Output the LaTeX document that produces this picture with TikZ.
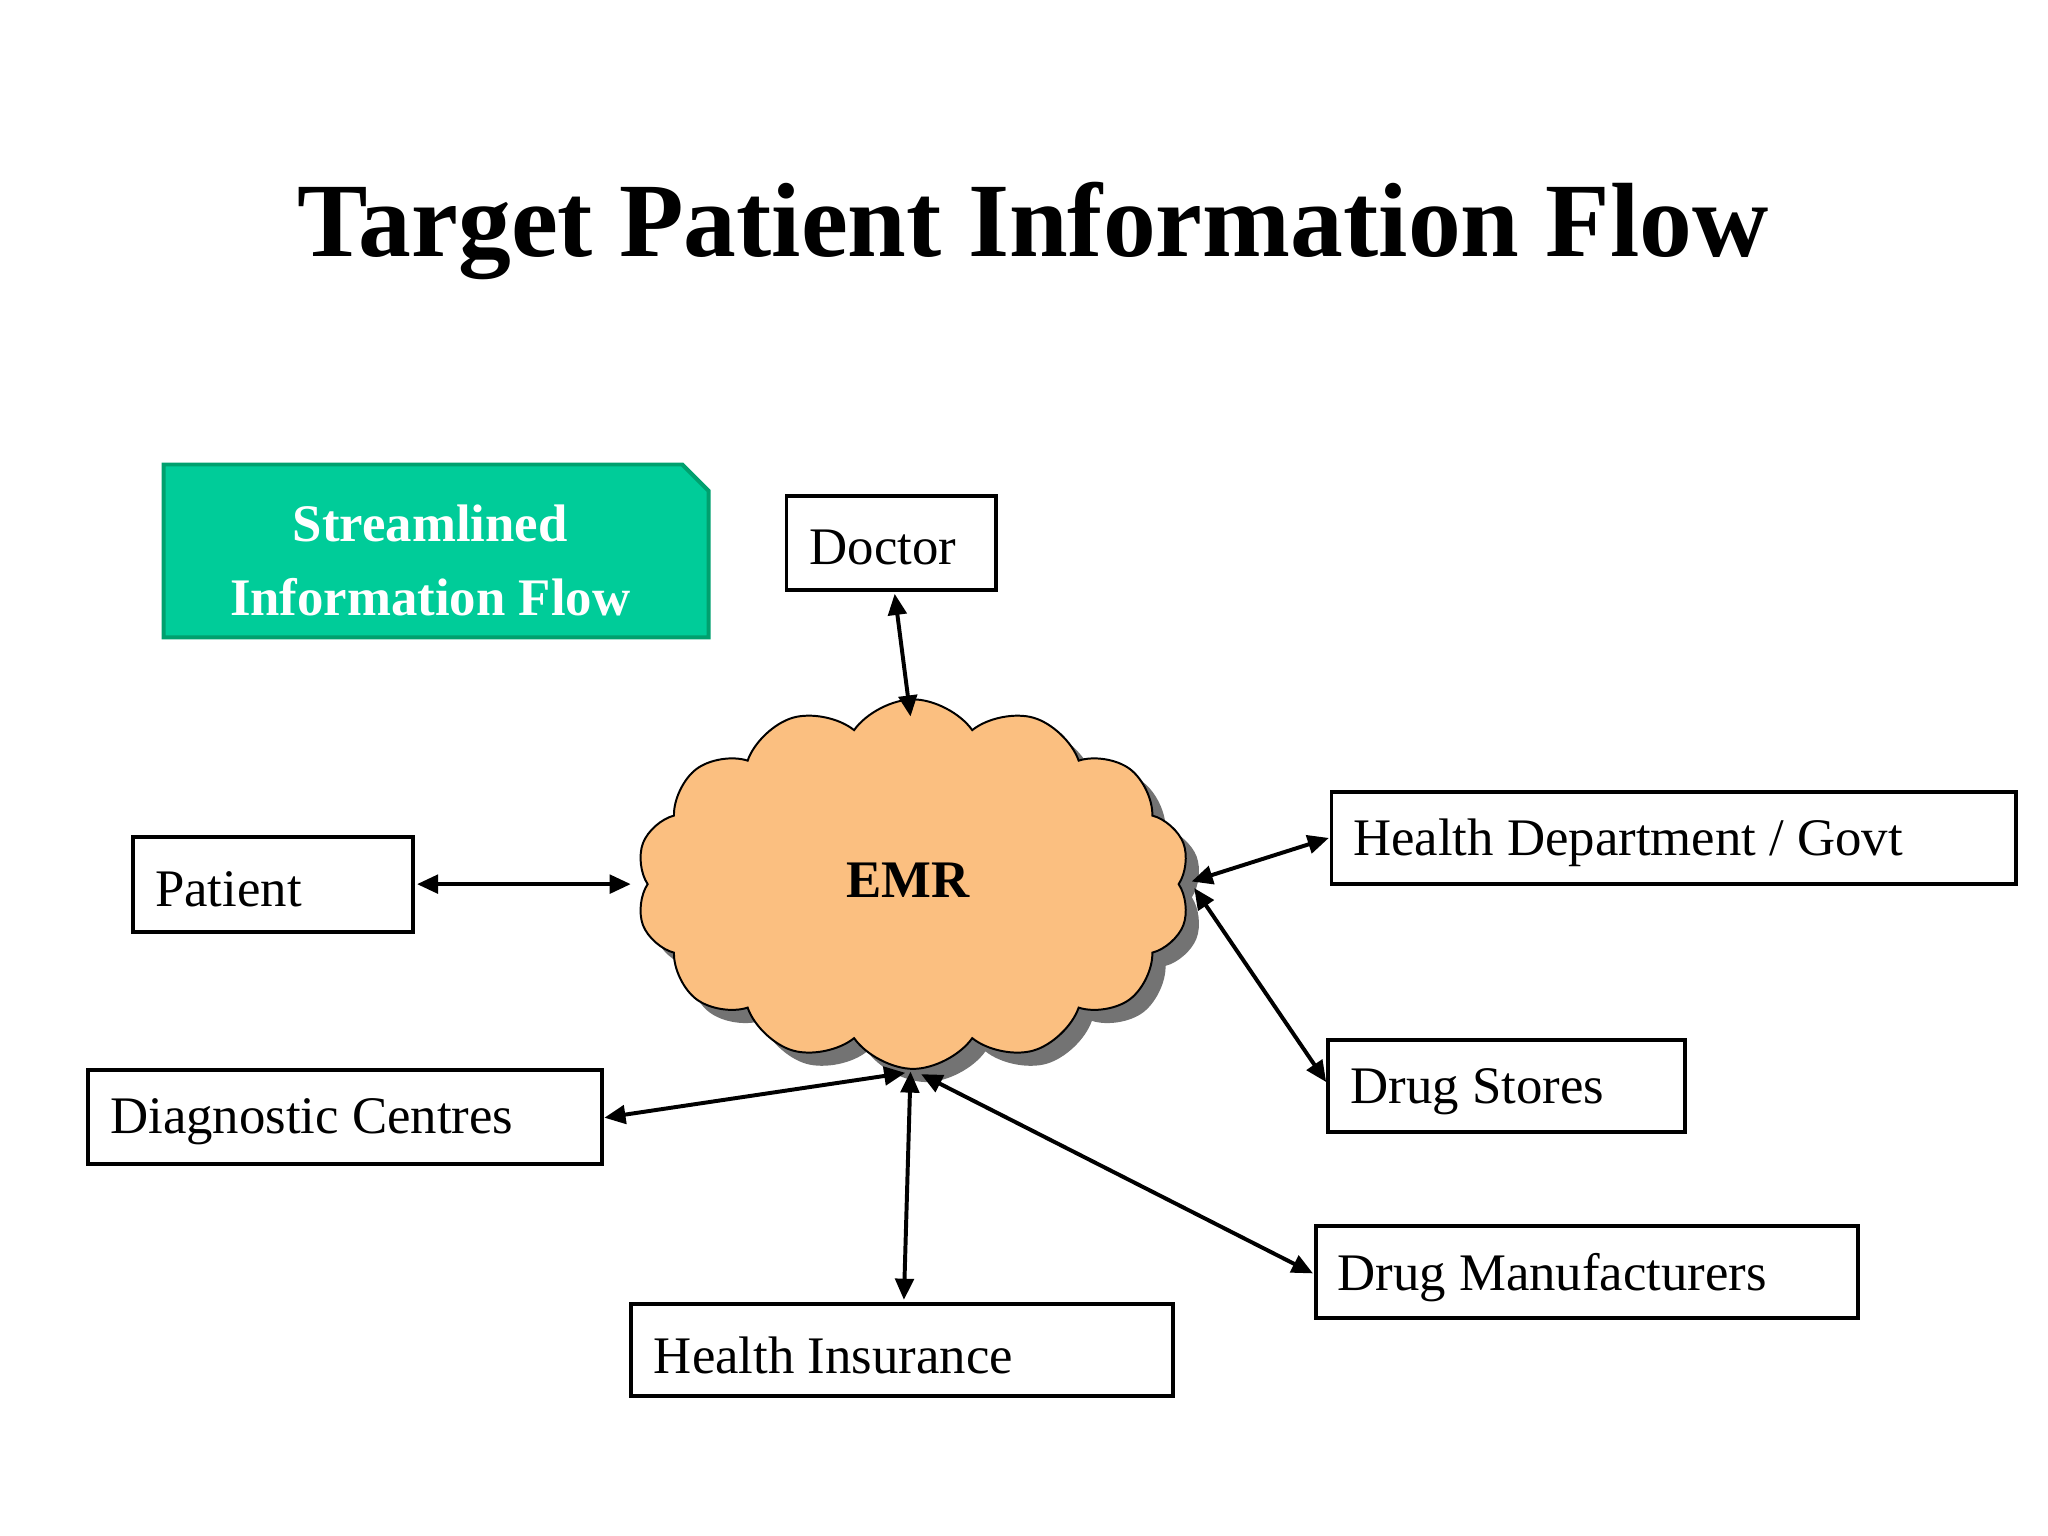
\documentclass[tikz,border=0pt]{standalone}
\usepackage{fontspec}
\setmainfont{Liberation Serif}
\usetikzlibrary{shapes.symbols,shadows,arrows.meta}
\begin{document}
\begin{tikzpicture}[x=1pt,y=-1pt,
 box/.style={draw,line width=3pt,fill=white,inner sep=0pt,font=\fontsize{40}{46}\selectfont,text depth=0pt},
 arr/.style={line width=3pt,{Triangle[length=16pt,width=14pt]}-{Triangle[length=16pt,width=14pt]}}]
\useasboundingbox (0,0) rectangle (1552,1164);
\node[font=\bfseries\fontsize{80}{90}\selectfont] (title) at (783,175) {Target Patient Information Flow};
% streamlined
\draw[fill=teal!20!green!60!cyan!80, fill={rgb,255:red,0;green,204;blue,153}, draw={rgb,255:red,0;green,160;blue,110}, line width=3pt]
 (124,352) -- (517,352) -- (537,372) -- (537,483) -- (124,483) -- cycle;
\node[align=center,text=white,font=\bfseries\fontsize{40}{56}\selectfont] (stream) at (326,425) {Streamlined\\Information Flow};
% cloud
\node[cloud,cloud puffs=14,cloud puff arc=110,aspect=1.5,minimum width=420pt,minimum height=280pt,
 fill={rgb,255:red,251;green,191;blue,128},draw=black,line width=1.5pt,
 drop shadow={shadow xshift=10pt,shadow yshift=-10pt,fill=black!55,opacity=1},
 font=\bfseries\fontsize{40}{46}\selectfont] (emr) at (692,670) {};
\node[font=\bfseries\fontsize{40}{46}\selectfont] (emrt) at (688,667) {EMR};
% boxes
\draw[line width=3pt] (596,376) rectangle (755,447); \node[anchor=west,font=\fontsize{40}{46}\selectfont] (doc) at (610,415) {Doctor};
\draw[line width=3pt] (101,634) rectangle (313,706); \node[anchor=west,font=\fontsize{40}{46}\selectfont] (pat) at (114,674) {Patient};
\draw[line width=3pt] (67,811) rectangle (456,882); \node[anchor=west,font=\fontsize{40}{46}\selectfont] (diag) at (80,850) {Diagnostic Centres};
\draw[line width=3pt] (478,988) rectangle (889,1058); \node[anchor=west,font=\fontsize{40}{46}\selectfont] (ins) at (492,1027) {Health Insurance};
\draw[line width=3pt] (997,929) rectangle (1408,999); \node[anchor=west,font=\fontsize{40}{46}\selectfont] (man) at (1010,968) {Drug Manufacturers};
\draw[line width=3pt] (1006,788) rectangle (1277,858); \node[anchor=west,font=\fontsize{40}{46}\selectfont] (store) at (1020,827) {Drug Stores};
\draw[line width=3pt] (1009,600) rectangle (1528,670); \node[anchor=west,font=\fontsize{40}{46}\selectfont] (gov) at (1022,639) {Health Department / Govt};
% endpoints
\coordinate (d1) at (678,450); \coordinate (d2) at (690,543);
\coordinate (p1) at (316,670); \coordinate (p2) at (478,670);
\coordinate (g1) at (1007,635); \coordinate (g2) at (903,668);
\coordinate (s1) at (1005,820); \coordinate (s2) at (905,673);
\coordinate (c1) at (458,847); \coordinate (c2) at (686,813);
\coordinate (i1) at (685,985); \coordinate (i2) at (690,812);
\coordinate (m1) at (995,965); \coordinate (m2) at (698,814);
\draw[arr] (d1) -- (d2);
\draw[arr] (p1) -- (p2);
\draw[arr] (g1) -- (g2);
\draw[arr] (s1) -- (s2);
\draw[arr] (c1) -- (c2);
\draw[arr] (i1) -- (i2);
\draw[arr] (m1) -- (m2);
\end{tikzpicture}
\end{document}
